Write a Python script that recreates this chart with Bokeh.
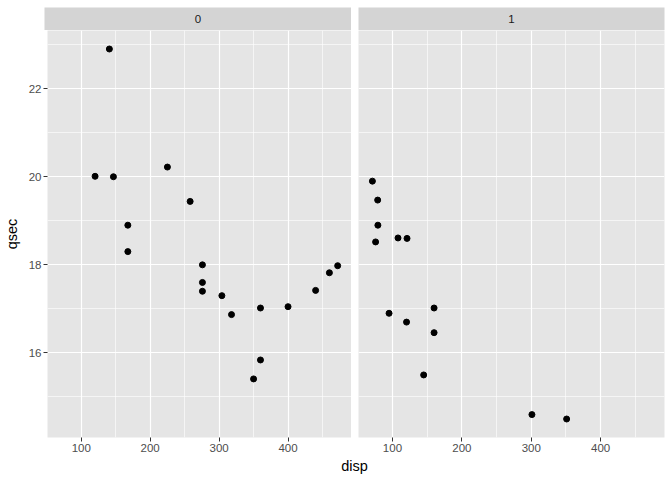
from bokeh.plotting import figure
from bokeh.models import Range1d, FixedTicker
from bokeh.layouts import column, row
from bokeh.core.properties import value
from bokeh.embed import file_html
from bokeh.resources import INLINE

# mtcars: disp vs qsec, split by am
disp_am0 = [258, 360, 225, 360, 146.7, 140.8, 167.6, 167.6, 275.8, 275.8,
            275.8, 472, 460, 440, 120.1, 318, 304, 350, 400]
qsec_am0 = [19.44, 17.02, 20.22, 15.84, 20.00, 22.90, 18.30, 18.90, 17.40, 17.60,
            18.00, 17.98, 17.82, 17.42, 20.01, 16.87, 17.30, 15.41, 17.05]
disp_am1 = [160, 160, 108, 78.7, 75.7, 71.1, 79, 120.3, 95.1, 351, 145, 301, 121]
qsec_am1 = [16.46, 17.02, 18.61, 19.47, 18.52, 19.90, 18.90, 16.70, 16.90,
            14.50, 15.50, 14.60, 18.60]
facet_labels = ["0", "1"]
x_ticks = [100, 200, 300, 400]
x_minor = [150, 250, 350, 450]
y_ticks = [16, 18, 20, 22]
y_minor = [15, 17, 19, 21, 23]

FONT = "Liberation Sans"
PANEL = "#e5e5e5"
STRIP = "#d4d4d4"

xr = Range1d(51.06, 492.05)
yr = Range1d(14.08, 23.32)


def panel(disp, qsec, width, left, right, show_y):
    p = figure(width=width, height=425, x_range=xr, y_range=yr,
               output_backend="svg", toolbar_location=None,
               y_axis_location="left" if show_y else None,
               min_border_left=left, min_border_right=right,
               min_border_top=0, min_border_bottom=18)
    p.background_fill_color = PANEL
    p.border_fill_color = "white"
    p.outline_line_color = None
    p.xgrid.ticker = FixedTicker(ticks=x_ticks, minor_ticks=x_minor)
    p.ygrid.ticker = FixedTicker(ticks=y_ticks, minor_ticks=y_minor)
    for g in (p.xgrid, p.ygrid):
        g.grid_line_color = "white"
        g.grid_line_width = 1.2
        g.minor_grid_line_color = "white"
        g.minor_grid_line_width = 0.6
    p.xaxis.ticker = FixedTicker(ticks=x_ticks)
    axes = [p.xaxis]
    if show_y:
        p.yaxis.ticker = FixedTicker(ticks=y_ticks)
        p.yaxis.axis_label = "qsec"
        p.yaxis.axis_label_text_font = FONT
        p.yaxis.axis_label_text_font_size = "14.5px"
        p.yaxis.axis_label_text_font_style = "normal"
        p.yaxis.axis_label_text_color = "black"
        p.yaxis.axis_label_standoff = 6
        axes.append(p.yaxis)
    for ax in axes:
        ax.axis_line_color = None
        ax.major_tick_line_color = "#333333"
        ax.major_tick_out = 4
        ax.major_tick_in = 0
        ax.minor_tick_line_color = None
        ax.major_label_text_font = FONT
        ax.major_label_text_font_size = "11.5px"
        ax.major_label_text_color = "#4d4d4d"
        ax.major_label_standoff = 2
    p.scatter(disp, qsec, size=6, color="black")
    return p


def strip(label, width, left, right):
    s = figure(width=width, height=30, x_range=Range1d(0, 1), y_range=Range1d(0, 1),
               output_backend="svg", toolbar_location=None,
               x_axis_location=None, y_axis_location=None,
               min_border_left=left, min_border_right=right,
               min_border_top=7, min_border_bottom=0)
    s.background_fill_color = STRIP
    s.border_fill_color = "white"
    s.outline_line_color = None
    s.grid.visible = False
    s.text(x=[0.5], y=[0.5], text=[label], text_align="center", text_baseline="middle",
           text_font=value(FONT), text_font_size="11.5px", text_color="#1a1a1a")
    return s


p0 = panel(disp_am0, qsec_am0, 351, 44, 0, True)
p1 = panel(disp_am1, qsec_am1, 319, 7, 6, False)
s0 = strip(facet_labels[0], 351, 44, 0)
s1 = strip(facet_labels[1], 319, 7, 6)

# shared x axis title under both panels
t = figure(width=670, height=20, x_range=Range1d(0, 670), y_range=Range1d(0, 20),
           output_backend="svg", toolbar_location=None,
           x_axis_location=None, y_axis_location=None,
           min_border_left=0, min_border_right=0, min_border_top=0, min_border_bottom=0)
t.outline_line_color = None
t.grid.visible = False
t.text(x=[354], y=[10], text=["disp"], text_align="center", text_baseline="middle",
       text_font=value(FONT), text_font_size="14.5px", text_color="black")

layout = column(row(s0, s1), row(p0, p1), t)
open("out.html", "w").write(file_html(layout, INLINE))
